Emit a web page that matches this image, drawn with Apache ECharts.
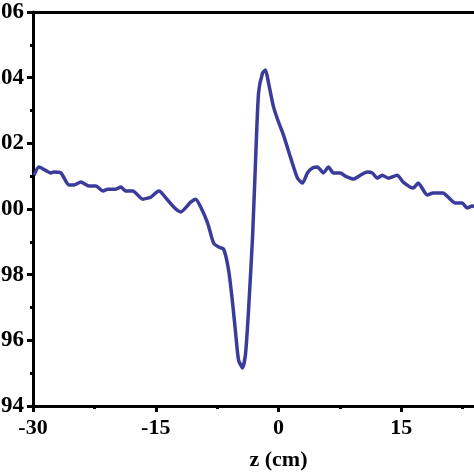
<!DOCTYPE html>
<html><head><meta charset="utf-8">
<script src="https://cdn.jsdelivr.net/npm/echarts@6/dist/echarts.min.js"></script>
<style>html,body{margin:0;padding:0;background:#fff}#c{width:474px;height:474px}</style>
</head><body><div id="c"></div>
<script>
var zValues = [-29.88,-29.27,-27.80,-27.44,-26.59,-25.61,-25.0,-24.15,-23.17,-22.32,-21.46,-20.85,-19.88,-19.27,-18.66,-17.80,-16.59,-15.98,-15.61,-14.63,-14.39,-12.80,-11.95,-10.73,-10.12,-9.51,-8.66,-7.93,-7.32,-6.71,-6.10,-5.61,-5.24,-4.88,-4.39,-4.02,-3.66,-3.17,-2.80,-2.44,-1.95,-1.59,-1.22,-0.61,0.0,0.61,1.46,2.32,2.93,3.54,4.15,4.76,5.49,6.10,6.71,7.56,8.17,9.15,10.0,10.85,11.46,12.07,12.68,13.41,14.51,15.24,16.46,17.07,18.17,18.90,20.12,20.73,21.59,22.44,23.05,23.66,25.0,27.0,30.0];
var tValues = [1.0103,1.0128,1.011,1.0113,1.011,1.0073,1.0073,1.0082,1.007,1.007,1.0055,1.006,1.006,1.0067,1.0055,1.0055,1.003,1.0033,1.0036,1.0055,1.0052,1.0006,0.9991,1.0021,1.003,1.0006,0.9957,0.9896,0.9884,0.9878,0.9814,0.9714,0.9622,0.954,0.9516,0.9561,0.9692,0.9915,1.0149,1.0353,1.0414,1.0423,1.0384,1.0311,1.0265,1.0225,1.0158,1.0094,1.0079,1.011,1.0125,1.0128,1.011,1.0128,1.011,1.011,1.010,1.0091,1.0103,1.0113,1.011,1.0094,1.0103,1.0094,1.0103,1.0082,1.0064,1.0079,1.0043,1.0049,1.0049,1.0036,1.0018,1.0018,1.0003,1.0009,1.000,0.9995,0.999];
var xTicks = [-30,-15,0,15,30];
var yTicks = [0.94,0.96,0.98,1.00,1.02,1.04,1.06];
var xName = 'z (cm)';

var data = zValues.map(function(z,i){return [z,tValues[i]];});
var font = 'Liberation Serif';
var chart = echarts.init(document.getElementById('c'));
var axisLineStyle = {color:'#000', width:3};
chart.setOption({
  animation:false,
  grid:{left:33, top:12, width:491, bottom:68, containLabel:false, outerBoundsMode:'none'},
  xAxis:[{
    type:'value', min:xTicks[0], max:xTicks[xTicks.length-1], interval:15,
    position:'bottom',
    name:xName, nameLocation:'middle', nameGap:43,
    nameTextStyle:{fontFamily:font, fontWeight:'bold', fontSize:22, color:'#000'},
    axisLine:{onZero:false, lineStyle:axisLineStyle},
    axisTick:{show:true, inside:false, length:6, lineStyle:{width:3,color:'#000'}},
    minorTick:{show:true, splitNumber:2, length:3, lineStyle:{width:3,color:'#000'}},
    axisLabel:{fontFamily:font, fontWeight:'bold', fontSize:22, color:'#000', margin:11},
    splitLine:{show:false}
  },{
    type:'value', min:xTicks[0], max:xTicks[xTicks.length-1], position:'top',
    axisLine:{onZero:false, lineStyle:axisLineStyle},
    axisTick:{show:false}, axisLabel:{show:false}, splitLine:{show:false}
  }],
  yAxis:[{
    type:'value', min:yTicks[0], max:yTicks[yTicks.length-1], interval:0.02,
    position:'left',
    axisLine:{onZero:false, lineStyle:axisLineStyle},
    axisTick:{show:true, inside:false, length:6, lineStyle:{width:3,color:'#000'}},
    minorTick:{show:true, splitNumber:2, length:3, lineStyle:{width:3,color:'#000'}},
    axisLabel:{fontFamily:font, fontWeight:'bold', fontSize:23, color:'#000', margin:9,
      formatter:function(v){return v.toFixed(2);}},
    splitLine:{show:false}
  },{
    type:'value', min:yTicks[0], max:yTicks[yTicks.length-1], position:'right',
    axisLine:{onZero:false, lineStyle:axisLineStyle},
    axisTick:{show:false}, axisLabel:{show:false}, splitLine:{show:false}
  }],
  series:[{
    type:'line', data:data, showSymbol:false, smooth:0.2,
    lineStyle:{color:'#3a3b9b', width:3.5}
  }]
});
</script></body></html>
